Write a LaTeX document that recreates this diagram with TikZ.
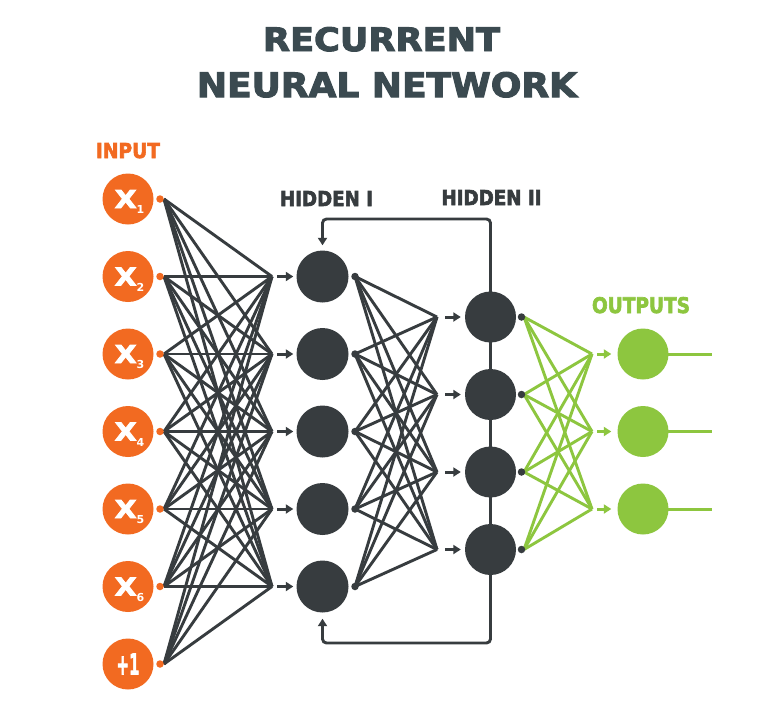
\documentclass[tikz,border=0pt]{standalone}
\usepackage{fontspec}
\usepackage{graphicx}
\usetikzlibrary{arrows.meta,backgrounds}
\newfontfamily\heavy{DejaVu Sans Bold}[FakeBold=3]
\newfontfamily\subfont{DejaVu Sans Bold}
\newcommand{\hv}{\heavy}
\newcommand{\fitlbl}[3]{\resizebox{#1pt}{#2pt}{\hv #3}}
\definecolor{orng}{HTML}{F26A21}
\definecolor{grn}{HTML}{8DC63F}
\definecolor{drk}{HTML}{373C3F}
\definecolor{ttl}{HTML}{3B4A50}
\begin{document}
\begin{tikzpicture}[x=1pt,y=-1pt,
  inode/.style={circle, fill=orng, minimum size=51pt, inner sep=0pt, text=white, text depth=0pt},
  hnode/.style={circle, fill=drk, minimum size=52pt, inner sep=0pt},
  gnode/.style={circle, fill=drk, minimum size=51pt, inner sep=0pt},
  onode/.style={circle, fill=grn, minimum size=51pt, inner sep=0pt},
  odot/.style={circle, fill=orng, minimum size=7.5pt, inner sep=0pt},
  ddot/.style={circle, fill=drk, minimum size=7.5pt, inner sep=0pt},
  wire/.style={draw=drk, line width=2.9pt},
  gwire/.style={draw=grn, line width=2.9pt},
  tip/.style={-{Triangle[length=7.5pt,width=9pt]}},
  shortarr/.style={line width=3pt, tip},
  lbl/.style={anchor=base, inner sep=0pt}
]
\useasboundingbox (0,0) rectangle (768,713);

% titles
\node[lbl, text=ttl] (t1) at (381.5,51) {\fitlbl{237}{24}{RECURRENT}};
\node[lbl, text=ttl] (t2) at (387,97) {\fitlbl{380}{25}{NEURAL NETWORK}};
\node[lbl, text=orng] (linput) at (128,158) {\fitlbl{64}{15}{INPUT}};
\node[lbl, text=drk] (lh1) at (326.5,206) {\fitlbl{93}{15}{HIDDEN I}};
\node[lbl, text=drk] (lh2) at (491.5,205) {\fitlbl{100}{15}{HIDDEN II}};
\node[lbl, text=grn] (lout) at (641,313) {\fitlbl{98}{16}{OUTPUTS}};

% input layer
\foreach \i in {1,...,6} {
  \node[inode] (x\i) at (128,{199+77.5*(\i-1)}) {\hspace{3pt}\fitlbl{22}{18}{X}\raisebox{-5.5pt}{\fontsize{11}{11}\selectfont\subfont \i}};
}
\node[inode] (x7) at (128,664) {\fitlbl{23}{21}{+1}};
\foreach \i in {1,...,7} {
  \node[odot] (xd\i) at (160,{199+77.5*(\i-1)}) {};
  \coordinate (xs\i) at (164,{199+77.5*(\i-1)});
}

% hidden I
\foreach \j in {1,...,5} {
  \node[hnode] (h\j) at (322.5,{276.5+77.5*(\j-1)}) {};
  \node[ddot] (hd\j) at (355,{276.5+77.5*(\j-1)}) {};
  \coordinate (c1\j) at (272,{276.5+77.5*(\j-1)});
}

% hidden II
\foreach \k in {1,...,4} {
  \node[gnode] (g\k) at (490.5,{317+77.5*(\k-1)}) {};
  \node[ddot] (gd\k) at (521.5,{317+77.5*(\k-1)}) {};
  \coordinate (gs\k) at (524,{317+77.5*(\k-1)});
  \coordinate (c2\k) at (437,{317+77.5*(\k-1)});
}

% outputs
\foreach \m in {1,...,3} {
  \node[onode] (o\m) at (643,{354+77.5*(\m-1)}) {};
  \coordinate (c3\m) at (592,{354+77.5*(\m-1)});
  \coordinate (oe\m) at (712,{354+77.5*(\m-1)});
}

\coordinate (tR) at (490.5,219);
\coordinate (tL) at (322.5,219);
\coordinate (bR) at (490.5,643);
\coordinate (bL) at (322.5,643);

\begin{scope}[on background layer]
  \fill[white] (0,0) rectangle (768,713);
  % input -> hidden I
  \foreach \i in {1,...,7} \foreach \j in {1,...,5}
    \draw[wire] (xs\i) -- (c1\j);
  % hidden I -> hidden II
  \foreach \j in {1,...,5} \foreach \k in {1,...,4}
    \draw[wire] (hd\j.center) -- (c2\k);
  % hidden II -> outputs
  \foreach \k in {1,...,4} \foreach \m in {1,...,3}
    \draw[gwire] (gs\k) -- (c3\m);
  % recurrent loops
  \draw[wire] (g1.center) -- (g4.center);
  \draw[wire, rounded corners=4pt, tip, shorten >=5pt] (g1.center) -- (tR) -- (tL) -- (h1.north);
  \draw[wire, rounded corners=4pt, tip, shorten >=6pt] (g4.center) -- (bR) -- (bL) -- (h5.south);
  % output lines
  \foreach \m in {1,...,3}
    \draw[gwire, line width=3pt] (o\m.center) -- (oe\m);
\end{scope}

% short arrows
\foreach \j in {1,...,5}
  \draw[drk, shortarr, shorten <=5pt, shorten >=3pt] (c1\j) -- (h\j);
\foreach \k in {1,...,4}
  \draw[drk, shortarr, shorten <=8pt, shorten >=4pt] (c2\k) -- (g\k);
\foreach \m in {1,...,3}
  \draw[grn, shortarr, shorten <=5pt, shorten >=6pt] (c3\m) -- (o\m);
\end{tikzpicture}
\end{document}
